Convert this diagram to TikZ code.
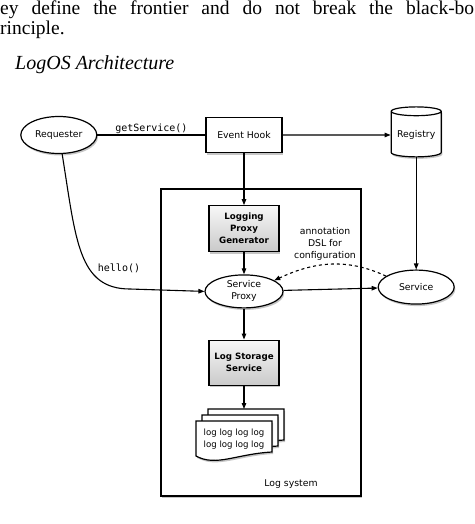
\documentclass[tikz,border=0pt]{standalone}
\usepackage{fontspec}
\setmainfont{Liberation Serif}
\setmonofont{DejaVu Sans Mono}
\newfontfamily\diagfont{DejaVu Sans}
\usetikzlibrary{arrows.meta,positioning,shapes.geometric,shadows}

\begin{document}
\begin{tikzpicture}[
  x=1pt,y=1pt,
  node distance=52pt,
  every node/.style={font=\diagfont\fontsize{9.3}{12}\selectfont},
  soft/.style={drop shadow={opacity=0.45,shadow xshift=1.2pt,shadow yshift=-2pt}},
  actor/.style={ellipse,draw,fill=white,line width=1.2pt,minimum width=76pt,minimum height=34pt,inner sep=0pt,align=center,soft},
  plainbox/.style={draw,fill=white,line width=1.2pt,minimum width=76pt,minimum height=35pt,soft},
  genbox/.style={draw,line width=1.2pt,top color=gray!6,bottom color=gray!42,minimum width=70pt,minimum height=46pt,inner sep=1pt,align=center,soft,font=\diagfont\bfseries\fontsize{8.7}{12}\selectfont},
  store/.style={cylinder,shape border rotate=90,aspect=0.22,draw,fill=white,line width=1.2pt,minimum width=50pt,minimum height=50pt,inner sep=1pt,soft},
  flow/.style={-{Triangle[length=6pt,width=4.5pt]},line width=1.1pt},
  call/.style={font=\ttfamily\fontsize{10}{12}\selectfont,inner sep=1pt},
  prose/.style={anchor=base west,inner sep=0pt,font=\rmfamily\fontsize{19.5}{23}\selectfont}
]
\useasboundingbox (0,0) rectangle (474,-524);

% text of the page above the figure
\node[prose] (txtA) at (0,-15) {\makebox[474pt][s]{ey define the frontier and do not break the black-bo}};
\node[prose] (txtB) at (0,-35) {rinciple.};
\node[prose,font=\rmfamily\itshape\fontsize{20}{23}\selectfont] (txtC) at (15,-70) {LogOS Architecture};

% log system frame
\node[draw,fill=white,line width=1.2pt,minimum width=200pt,minimum height=307pt,soft] (logsys) at (261,-342.5) {};
\node (logsyslabel) at (291,-484) {Log system};

\node[plainbox] (hook) at (244,-135) {Event Hook};
\node[actor,minimum height=37pt,left=108pt of hook] (req) {Requester};
\node[store,right=108pt of hook] (reg) {Registry};
\node[genbox,below=of hook] (lpg) {Logging\\Proxy\\Generator};
\node[actor,minimum width=78pt,minimum height=33pt,below=22pt of lpg] (proxy) {Service\\Proxy};
\node[actor,below=112pt of reg] (svc) {Service};
\node[genbox,minimum height=45pt,below=31pt of proxy] (lss) {Log Storage\\Service};

% stacked log pages
\foreach \d in {12,6,0} {
  \begin{scope}[shift={(196+\d,-421+\d)}]
    \draw[fill=white,line width=1.2pt,soft] (0,0) -- (76,0) -- (76,-31)
      .. controls (40,-33) and (20,-46) .. (0,-35) -- cycle;
  \end{scope}
}
\coordinate (logtop) at (244,-409);
\node[align=center,font=\diagfont\fontsize{8.6}{12}\selectfont] (logs) at (234,-439) {log log log log\\log log log log};

\draw[line width=1.1pt] (req) -- node[call,above] (lblget) {getService()} (hook);
\draw[flow] (hook) -- (reg);
\draw[flow] (hook) -- (lpg);
\draw[flow] (reg) -- (svc);
\draw[flow] (lpg) -- (proxy);
\draw[flow] (proxy) -- (svc);
\draw[flow] (proxy) -- (lss);
\draw[flow] (lss) -- (logtop);
\draw[flow] (req.-80) .. controls (76,-240) and (78,-289) .. (130,-289) -- (proxy.west);
\node[call] (lblhello) at (119,-268) {hello()};
\draw[flow,dashed] (svc.160) to[out=155,in=25] (proxy.20);
\node[align=center] (lblannot) at (325,-244) {annotation\\DSL for\\configuration};
\end{tikzpicture}
\end{document}
